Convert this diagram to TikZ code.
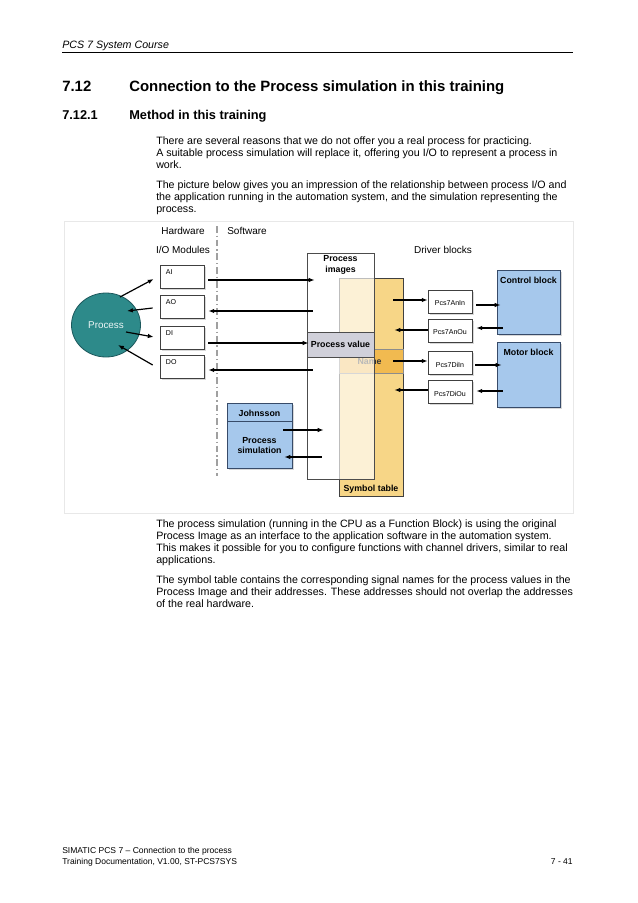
\documentclass[tikz,border=0pt]{standalone}
\usepackage{fontspec}
\setmainfont{Liberation Sans}
\usetikzlibrary{arrows.meta,shapes.geometric,shadows}
\definecolor{teal1}{RGB}{45,138,138}
\definecolor{tealdark}{RGB}{28,88,92}
\definecolor{lblue}{RGB}{166,200,236}
\definecolor{bluedark}{RGB}{55,75,105}
\definecolor{orange1}{RGB}{247,214,135}
\definecolor{orange2}{RGB}{241,186,80}
\definecolor{pvgray}{RGB}{208,208,218}
\definecolor{framegray}{RGB}{232,232,232}
\definecolor{sepgray}{RGB}{160,160,160}
\begin{document}
\begin{tikzpicture}[x=0.75pt,y=-0.75pt,
  body/.style={anchor=base west, inner sep=0pt, font=\fontsize{8}{9.6}\selectfont},
  foot/.style={anchor=base west, inner sep=0pt, font=\fontsize{6.4}{7.6}\selectfont},
  dtext/.style={inner sep=0pt, font=\fontsize{7.5}{9}\selectfont},
  btext/.style={inner sep=0pt, font=\fontsize{6.6}{8.2}\selectfont\bfseries, align=center},
  stext/.style={inner sep=0pt, font=\fontsize{5.3}{6}\selectfont},
  shad/.style={drop shadow={shadow xshift=1.8pt, shadow yshift=-1.8pt, fill=black!25, opacity=0.6}},
  iobox/.style={draw=black!75, fill=white, line width=0.5pt, minimum width=33pt, minimum height=17.25pt, inner sep=0pt, shad},
  bluebox/.style={draw=bluedark, fill=lblue, line width=0.6pt, inner sep=0pt, minimum width=47.25pt, shad},
  arr/.style={-{Latex[length=4.4pt,width=3.4pt]}, line width=0.9pt, black}
]
\useasboundingbox (0,0) rectangle (638,903);
\fill[white] (0,0) rectangle (638,903);

% page header
\node[anchor=base west, inner sep=0pt, font=\fontsize{8}{9.6}\selectfont\itshape] (hdr) at (62,48) {PCS 7 System Course};
\draw[line width=0.75pt] (62,52) -- (573,52);

% headings
\node[anchor=base west, inner sep=0pt, font=\fontsize{11.2}{13}\selectfont\bfseries] (h1n) at (62,91) {7.12};
\node[anchor=base west, inner sep=0pt, font=\fontsize{11.2}{13}\selectfont\bfseries] (h1t) at (129,91) {Connection to the Process simulation in this training};
\node[anchor=base west, inner sep=0pt, font=\fontsize{9.6}{11}\selectfont\bfseries] (h2n) at (62,119) {7.12.1};
\node[anchor=base west, inner sep=0pt, font=\fontsize{9.6}{11}\selectfont\bfseries] (h2t) at (129,119) {Method in this training};

% body text above
\node[body] (p1) at (156,144) {There are several reasons that we do not offer you a real process for practicing.};
\node[body] (p2) at (156,156) {A suitable process simulation will replace it, offering you I/O to represent a process in};
\node[body] (p3) at (156,168) {work.};
\node[body] (p4) at (156,188) {The picture below gives you an impression of the relationship between process I/O and};
\node[body] (p5) at (156,200) {the application running in the automation system, and the simulation representing the};
\node[body] (p6) at (156,212) {process.};

% diagram frame
\draw[framegray, line width=0.6pt] (64,221) rectangle (573,513);

% separator
\draw[sepgray, line width=1.4pt, dash pattern=on 5pt off 2.2pt on 0.9pt off 2.2pt] (217,226) -- (217,476);
\node[dtext] (hw) at (183,230.5) {Hardware};
\node[dtext] (sw) at (247,230.5) {Software};
\node[dtext] (iom) at (183,250) {I/O Modules};
\node[dtext] (drv) at (443,250) {Driver blocks};

% process circle
\node[ellipse, draw=tealdark, fill=teal1, line width=0.6pt, minimum width=51.75pt, minimum height=48pt, inner sep=0pt, text=white!92!teal1, font=\fontsize{7.4}{9}\selectfont] (proc) at (106,325) {Process};

% I/O modules
\node[iobox] (ai) at (182,276.5) {};
\node[iobox] (ao) at (182,306.5) {};
\node[iobox] (di) at (182,337.5) {};
\node[iobox] (do) at (182,366.5) {};
\node[stext, anchor=west] (ail) at ([shift={(6,-4.5)}]ai.west) {AI};
\node[stext, anchor=west] (aol) at ([shift={(6,-4.5)}]ao.west) {AO};
\node[stext, anchor=west] (dil) at ([shift={(6,-4.5)}]di.west) {DI};
\node[stext, anchor=west] (dol) at ([shift={(6,-4.5)}]do.west) {DO};

% symbol table
\node[draw=black!75, fill=orange1, line width=0.6pt, minimum width=48pt, minimum height=163.5pt, inner sep=0pt] (symtab) at (371,387) {};
\node[draw=black!45, fill=orange2, line width=0.4pt, minimum width=48pt, minimum height=18pt, inner sep=0pt] (nameband) at (371,361) {};
\node[btext, text=black!80] (namel) at (369.5,362) {Name};
\node[btext] (syml) at (371,489) {Symbol table};

% process images (semi-transparent overlay)
\node[draw=black!70, fill=white, fill opacity=0.66, draw opacity=1, line width=0.6pt, minimum width=50.25pt, minimum height=169.5pt, inner sep=0pt] (pimg) at (340.5,366) {};
\node[btext] (pimgl) at (340.5,265) {Process\\images};

% process value
\node[draw=black!70, fill=pvgray, line width=0.6pt, minimum width=50.25pt, minimum height=18.75pt, inner sep=0pt, font=\fontsize{6.6}{8}\selectfont\bfseries] (pval) at (340.5,344.5) {Process value};

% driver blocks
\node[iobox] (anin) at (450,301.5) {};
\node[iobox] (anou) at (450,330.5) {};
\node[iobox] (diin) at (450,362.5) {};
\node[iobox] (diou) at (450,391.5) {};
\node[stext] (aninl) at ([yshift=-1.5]anin.center) {Pcs7AnIn};
\node[stext] (anoul) at ([yshift=-1.5]anou.center) {Pcs7AnOu};
\node[stext] (diinl) at ([yshift=-1.5]diin.center) {Pcs7DiIn};
\node[stext] (dioul) at ([yshift=-1.5]diou.center) {Pcs7DiOu};

% control / motor blocks
\node[bluebox, minimum height=48pt] (ctrl) at (528.5,302) {};
\node[bluebox, minimum height=48.75pt] (motor) at (528.5,374.5) {};
\node[btext] (ctrll) at (528.5,280) {Control block};
\node[btext] (motorl) at (528.5,352) {Motor block};

% Johnsson / process simulation
\node[bluebox, minimum width=48.75pt, minimum height=13.5pt] (jhead) at (259.5,412) {};
\node[bluebox, minimum width=48.75pt, minimum height=35.25pt] (jbody) at (259.5,444.5) {};
\node[btext] (jheadl) at (259.5,413) {Johnsson};
\node[btext] (jbodyl) at (259.5,445.5) {Process\\simulation};

% process <-> modules
\draw[arr] ([shift={(14,-28)}]proc.center) -- ([shift={(-6,2.5)}]ai.west);
\draw[arr] ([shift={(-7,1.5)}]ao.west) -- ([shift={(21,-14)}]proc.center);
\draw[arr] ([shift={(20,7)}]proc.center) -- ([shift={(-6,-0.5)}]di.west);
\draw[arr] ([shift={(-7,-1.5)}]do.west) -- ([shift={(12,20)}]proc.center);

% modules <-> process image
\draw[arr] ([shift={(4,3.5)}]ai.east) -- ([shift={(8,-86)}]pimg.west);
\draw[arr] ([shift={(6,-55)}]pimg.west) -- ([shift={(4,4.5)}]ao.east);
\draw[arr] ([shift={(4,5.5)}]di.east) -- ([shift={(2,-1.5)}]pval.west);
\draw[arr] ([shift={(6,4)}]pimg.west) -- ([shift={(4,3.5)}]do.east);

% symbol table <-> drivers
\draw[arr] ([shift={(-10,-87)}]symtab.east) -- ([shift={(0,-1.5)}]anin.west);
\draw[arr] ([shift={(0,-0.5)}]anou.west) -- ([shift={(-9,-57)}]symtab.east);
\draw[arr] ([shift={(-10,-26)}]symtab.east) -- ([shift={(0,-1.5)}]diin.west);
\draw[arr] ([shift={(0,-1.5)}]diou.west) -- ([shift={(-9,3)}]symtab.east);

% drivers <-> blocks
\draw[arr] ([shift={(4,3.5)}]anin.east) -- ([shift={(4,3)}]ctrl.west);
\draw[arr] ([shift={(6,26)}]ctrl.west) -- ([shift={(4,-2.5)}]anou.east);
\draw[arr] ([shift={(3,2.5)}]diin.east) -- ([shift={(5,-9.5)}]motor.west);
\draw[arr] ([shift={(6,16.5)}]motor.west) -- ([shift={(4,-0.5)}]diou.east);

% simulation <-> process image
\draw[arr] ([shift={(-9,-14.5)}]jbody.east) -- ([shift={(17,64)}]pimg.west);
\draw[arr] ([shift={(15,91)}]pimg.west) -- ([shift={(-8,12.5)}]jbody.east);

% body text below
\node[body] (q1) at (156,527) {The process simulation (running in the CPU as a Function Block) is using the original};
\node[body] (q2) at (156,539) {Process Image as an interface to the application software in the automation system.};
\node[body] (q3) at (156,551) {This makes it possible for you to configure functions with channel drivers, similar to real};
\node[body] (q4) at (156,563) {applications.};
\node[body] (q5) at (156,583) {The symbol table contains the corresponding signal names for the process values in the};
\node[body] (q6) at (156,595) {Process Image and their addresses. These addresses should not overlap the addresses};
\node[body] (q7) at (156,607) {of the real hardware.};

% footer
\node[foot] (f1) at (62,853) {SIMATIC PCS 7 -- Connection to the process};
\node[foot] (f2) at (62,864) {Training Documentation, V1.00, ST-PCS7SYS};
\node[foot, anchor=base east] (f3) at (573,864) {7 - 41};
\end{tikzpicture}
\end{document}
